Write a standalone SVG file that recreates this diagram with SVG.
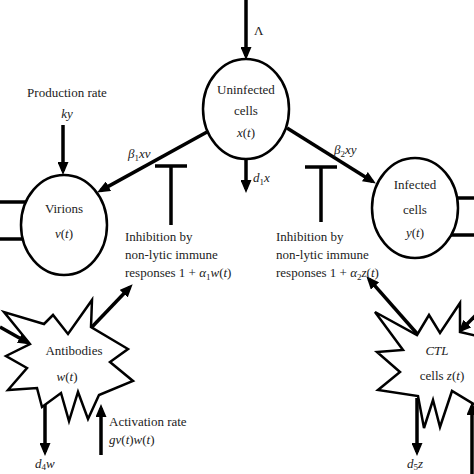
<svg xmlns="http://www.w3.org/2000/svg" width="474" height="474" viewBox="0 0 474 474">
<style>
.node{fill:#fff;stroke:#000;stroke-width:2.5}
.c{stroke:#000;stroke-width:3.5;fill:none}
.arr{marker-end:url(#ah)}
text{font-size:13px;fill:#222}
.m{text-anchor:middle}
.i{font-style:italic}
.s{font-size:9px}
</style>
<defs>
<marker id="ah" markerUnits="userSpaceOnUse" markerWidth="13" markerHeight="11" viewBox="0 0 13 11" refX="9" refY="5.5" orient="auto">
<path d="M0,0 L13,5.5 L0,11 z" fill="#000"/>
</marker>
</defs>
<g id="connectors">
<line class="c arr" x1="246" y1="0" x2="246" y2="56"/>
<line class="c arr" x1="246" y1="159" x2="246" y2="189"/>
<line class="c arr" x1="63" y1="125" x2="63" y2="171"/>
<line class="c arr" x1="207" y1="132" x2="100.6" y2="190.6"/>
<line class="c arr" x1="287" y1="128" x2="372.5" y2="181.4"/>
<line class="c" x1="155" y1="166" x2="187" y2="166"/>
<line class="c" x1="171" y1="166" x2="171" y2="225"/>
<line class="c" x1="305" y1="167" x2="337" y2="167"/>
<line class="c" x1="321" y1="167" x2="321" y2="222"/>
<line class="c arr" x1="91" y1="328" x2="129.9" y2="287.2"/>
<line class="c arr" x1="420" y1="337" x2="369" y2="279.2"/>
<line class="c arr" x1="45" y1="394" x2="45" y2="452"/>
<line class="c arr" x1="101" y1="455" x2="101" y2="408"/>
<line class="c arr" x1="417" y1="398" x2="417" y2="452"/>
<line class="c arr" x1="472" y1="474" x2="472" y2="406"/>
<line class="c" x1="0" y1="202" x2="26" y2="202"/>
<line class="c" x1="0" y1="239" x2="23" y2="239"/>
<line class="c" x1="456" y1="198" x2="474" y2="198"/>
<line class="c" x1="451" y1="235" x2="474" y2="235"/>
<line class="c arr" x1="0" y1="327" x2="27.4" y2="342.5"/>
<line class="c arr" x1="476" y1="315" x2="461.1" y2="329.9"/>
</g>
<g font-family="Liberation Serif, DejaVu Serif, serif">
<g id="uninfected">
<ellipse class="node" cx="246" cy="109" rx="43" ry="50"/>
<text class="m" x="246" y="94">Uninfected</text>
<text class="m" x="246" y="115">cells</text>
<text class="m" x="246" y="137"><tspan class="i">x</tspan>(<tspan class="i">t</tspan>)</text>
</g>
<g id="virions">
<ellipse class="node" cx="64" cy="225" rx="43" ry="50"/>
<text class="m" x="64" y="213">Virions</text>
<text class="m" x="64" y="238"><tspan class="i">v</tspan>(<tspan class="i">t</tspan>)</text>
</g>
<g id="infected">
<ellipse class="node" cx="415" cy="208" rx="43" ry="50"/>
<text class="m" x="415" y="189">Infected</text>
<text class="m" x="415" y="214">cells</text>
<text class="m" x="415" y="237"><tspan class="i">y</tspan>(<tspan class="i">t</tspan>)</text>
</g>
<g id="antibodies">
<polygon class="node" points="92,300 91,327 128,349 110,362 133,381 99,395 88,419 78,392 69,421 61,393 42,407 37,388 8,390 27,368 6,356 30,344 4,312 44,324 53,315 68,334"/>
<text class="m" x="74" y="355">Antibodies</text>
<text class="m" x="67" y="381"><tspan class="i">w</tspan>(<tspan class="i">t</tspan>)</text>
</g>
<g id="ctl">
<polygon class="node" points="375,312 417,335 429,315 440,333 460,303 460,332 495,340 478,370 500,420 452,391 440,427 433,400 424,428 418,396 378,390 400,372 377,352 403,350"/>
<text class="m i" x="437" y="355">CTL</text>
<text class="m" x="442" y="380">cells <tspan class="i">z</tspan>(<tspan class="i">t</tspan>)</text>
</g>
<g id="labels">
<text x="254" y="35">Λ</text>
<text x="253" y="182"><tspan class="i">d</tspan><tspan class="s" dy="3">1</tspan><tspan class="i" dy="-3">x</tspan></text>
<text class="m" x="67" y="97">Production rate</text>
<text class="m i" x="67" y="118">ky</text>
<text x="128" y="158"><tspan class="i">β</tspan><tspan class="s" dy="3">1</tspan><tspan class="i" dy="-3">xv</tspan></text>
<text x="334" y="154"><tspan class="i">β</tspan><tspan class="s" dy="3">2</tspan><tspan class="i" dy="-3">xy</tspan></text>
<text x="125" y="241">Inhibition by</text>
<text x="125" y="259">non-lytic immune</text>
<text x="125" y="277">responses 1 + <tspan class="i">α</tspan><tspan class="s" dy="3">1</tspan><tspan class="i" dy="-3">w</tspan>(<tspan class="i">t</tspan>)</text>
<text x="276" y="241">Inhibition by</text>
<text x="276" y="259">non-lytic immune</text>
<text x="276" y="277">responses 1 + <tspan class="i">α</tspan><tspan class="s" dy="3">2</tspan><tspan class="i" dy="-3">z</tspan>(<tspan class="i">t</tspan>)</text>
<text x="109" y="426">Activation rate</text>
<text x="109" y="444"><tspan class="i">gv</tspan>(<tspan class="i">t</tspan>)<tspan class="i">w</tspan>(<tspan class="i">t</tspan>)</text>
<text x="35" y="468"><tspan class="i">d</tspan><tspan class="s" dy="2">4</tspan><tspan class="i" dy="-2">w</tspan></text>
<text x="407" y="468"><tspan class="i">d</tspan><tspan class="s" dy="2">5</tspan><tspan class="i" dy="-2">z</tspan></text>
</g>
</g>
</svg>
